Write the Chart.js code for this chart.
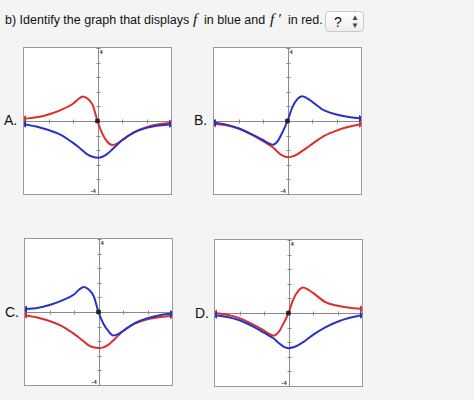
<!DOCTYPE html>
<html>
<head>
<meta charset="utf-8">
<script src="https://cdn.jsdelivr.net/npm/chart.js@4.4.1/dist/chart.umd.min.js"></script>
<style>
  body { margin: 0; width: 474px; height: 400px; background: #f4f4f4; position: relative; overflow: hidden;
         font-family: "Liberation Sans", Arial, sans-serif; color: #111; }
  .t { position: absolute; top: 13px; font-size: 12.5px; white-space: nowrap; }
  .t.m { top: 10px; font-family: "Liberation Serif", serif; font-style: italic; font-size: 15.5px; }
  .select { position: absolute; left: 325px; top: 11px; width: 39px; height: 21px; box-sizing: border-box;
            border: 1px solid #c8c8c8; border-radius: 4px; background: linear-gradient(#fff, #efefef); }
  .select .q { position: absolute; left: 8px; top: 2px; font-size: 14px; }
  .select .arr { position: absolute; left: 25px; top: 2px; font-size: 8px; line-height: 8px; color: #444; }
  .lbl { position: absolute; font-size: 14px; }
  canvas { position: absolute; }
</style>
</head>
<body>
<div class="t" style="left:5px">b) Identify the graph that displays</div>
<div class="t m" style="left:193px">f</div>
<div class="t" style="left:204px">in blue and</div>
<div class="t m" style="left:270px">f&thinsp;&prime;</div>
<div class="t" style="left:288px">in red.</div>
<div class="select"><span class="q">?</span><span class="arr">&#9650;<br>&#9660;</span></div>

<div class="lbl" style="left:4px;top:112px">A.</div>
<div class="lbl" style="left:194px;top:112px">B.</div>
<div class="lbl" style="left:5px;top:304px">C.</div>
<div class="lbl" style="left:195px;top:305px">D.</div>

<canvas id="plotA" width="159" height="158" style="left:18px;top:42px"></canvas>
<canvas id="plotB" width="159" height="158" style="left:208px;top:42px"></canvas>
<canvas id="plotC" width="159" height="158" style="left:19px;top:233px"></canvas>
<canvas id="plotD" width="159" height="158" style="left:209px;top:234px"></canvas>

<script>
// sample positions along x (tick units), shared by all curves
const xGrid = [-3, -2.5, -2, -1.5, -1, -0.8, -0.6, -0.4, -0.2, 0, 0.2, 0.4, 0.6, 0.8, 1, 1.5, 2, 2.5, 3];

// panel A
const blueA = [-0.22, -0.38, -0.62, -0.95, -1.5, -1.75, -2.03, -2.3, -2.45, -2.52, -2.45, -2.25, -1.95, -1.62, -1.32, -0.78, -0.47, -0.31, -0.23];
const redA  = [0.15, 0.25, 0.45, 0.75, 1.18, 1.47, 1.68, 1.52, 1.1, 0, -0.88, -1.42, -1.64, -1.55, -1.32, -0.76, -0.43, -0.23, -0.13];
// panel B
const blueB = [-0.1, -0.25, -0.5, -0.88, -1.3, -1.5, -1.63, -1.38, -0.75, 0, 0.95, 1.5, 1.7, 1.55, 1.33, 0.72, 0.44, 0.27, 0.17];
const redB  = [-0.2, -0.3, -0.52, -0.9, -1.38, -1.58, -1.8, -2.12, -2.38, -2.49, -2.42, -2.28, -2.05, -1.82, -1.58, -1.02, -0.66, -0.4, -0.22];
// panel C
const blueC = [0.2, 0.28, 0.48, 0.78, 1.2, 1.52, 1.72, 1.54, 1.1, 0, -0.8, -1.3, -1.61, -1.52, -1.3, -0.75, -0.42, -0.22, -0.11];
const redC  = [-0.22, -0.38, -0.62, -0.97, -1.5, -1.75, -2.02, -2.28, -2.42, -2.47, -2.42, -2.25, -1.95, -1.62, -1.3, -0.78, -0.5, -0.35, -0.26];
// panel D
const blueD = [-0.15, -0.28, -0.5, -0.88, -1.35, -1.55, -1.75, -2.05, -2.3, -2.41, -2.35, -2.2, -2.0, -1.75, -1.5, -0.98, -0.6, -0.33, -0.15];
const redD  = [0, -0.12, -0.35, -0.75, -1.2, -1.42, -1.55, -1.3, -0.7, 0, 0.95, 1.52, 1.74, 1.6, 1.38, 0.75, 0.5, 0.36, 0.28];

const xTicks = [-3, -2, -1, 1, 2, 3];
const yTicks = [-5, -4, -3, -2, -1, 1, 2, 3, 4, 5];
const endLabels = ['4', '-4'];

const BLUE = '#2832c4';
const RED = '#dc2e2e';

// white plot box, axes through the origin, small tick marks
const panelFrame = {
    id: 'panelFrame',
    beforeDatasetsDraw(chart) {
        const { ctx, chartArea: a, scales: { x, y } } = chart;
        const x0 = Math.round(x.getPixelForValue(0)) + 0.5;
        const y0 = Math.round(y.getPixelForValue(0)) + 0.5;
        ctx.save();
        ctx.fillStyle = '#fff';
        ctx.fillRect(a.left, a.top, a.width, a.height);
        ctx.lineWidth = 1;
        ctx.strokeStyle = '#9a9a9a';
        ctx.strokeRect(a.left - 0.5, a.top - 0.5, a.width + 1, a.height + 1);

        ctx.strokeStyle = '#8a8a8a';
        ctx.beginPath();
        ctx.moveTo(a.left, y0); ctx.lineTo(a.right, y0);
        ctx.moveTo(x0, a.top); ctx.lineTo(x0, a.bottom);
        xTicks.forEach(v => {
            const px = Math.round(x.getPixelForValue(v)) + 0.5;
            ctx.moveTo(px, y0 - 2); ctx.lineTo(px, y0 + 2);
        });
        yTicks.forEach(v => {
            const py = Math.round(y.getPixelForValue(v)) + 0.5;
            ctx.moveTo(x0 - 2, py); ctx.lineTo(x0 + 2, py);
        });
        ctx.stroke();

        ctx.fillStyle = '#333';
        ctx.font = 'bold 6px "Liberation Sans"';
        ctx.fillText(endLabels[0], x0 + 1, a.top + 6);
        ctx.fillText(endLabels[1], x0 - 8, a.bottom - 1);
        ctx.restore();
    }
};

function drawPanel(id, blue, red) {
    const last = xGrid.length - 1;
    const curve = (vals, color) => ({
        data: xGrid.map((x, i) => ({ x: x, y: vals[i] })),
        borderColor: color,
        backgroundColor: color,
        borderWidth: 2,
        cubicInterpolationMode: 'monotone',
        pointStyle: 'triangle',
        pointRadius: c => (c.dataIndex === 0 || c.dataIndex === last) ? 2 : 0,
        pointRotation: c => c.dataIndex === 0 ? -90 : 90
    });

    new Chart(document.getElementById(id), {
        type: 'line',
        data: {
            datasets: [
                { data: [{ x: 0, y: 0 }], showLine: false, pointRadius: 2.5, pointStyle: 'rect', backgroundColor: '#222', borderColor: '#222' },
                curve(blue, BLUE),
                curve(red, RED)
            ]
        },
        options: {
            responsive: false,
            animation: false,
            events: [],
            layout: { padding: 1 },
            plugins: { legend: { display: false }, tooltip: { enabled: false } },
            scales: {
                x: { type: 'linear', min: -3, max: 3, display: false },
                y: { type: 'linear', min: -5, max: 5, display: false }
            }
        },
        plugins: [panelFrame]
    });
}

drawPanel('plotA', blueA, redA);
drawPanel('plotB', blueB, redB);
drawPanel('plotC', blueC, redC);
drawPanel('plotD', blueD, redD);
</script>
</body>
</html>
